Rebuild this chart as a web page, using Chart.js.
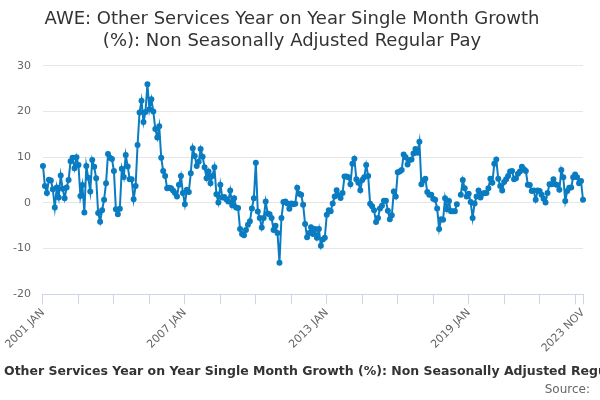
<!DOCTYPE html>
<html>
<head>
<meta charset="utf-8">
<script src="https://cdn.jsdelivr.net/npm/chart.js@4.4.1/dist/chart.umd.min.js"></script>
<style>
  html, body { margin: 0; padding: 0; background: #fff; }
  #wrap { position: relative; width: 600px; height: 400px; }
</style>
</head>
<body>
<div id="wrap"><canvas id="aweChart" width="600" height="400"></canvas></div>
<script>
// monthly series, 2001 JAN .. 2023 NOV
const firstYear = 2001
const monthNames = ['JAN', 'FEB', 'MAR', 'APR', 'MAY', 'JUN', 'JUL', 'AUG', 'SEP', 'OCT', 'NOV', 'DEC']
const growth = [
  8.1, 3.7, 2.2, 5.1, 4.9, 3.0, -1.0, 3.4, 1.2, 6.0, 3.1, 1.0,
  3.4, 5.0, 9.1, 9.9, 7.6, 10.0, 8.3, 1.5, 3.9, -2.1, 8.1, 5.5,
  2.5, 9.4, 7.9, 5.4, -2.2, -4.1, -1.6, 0.7, 4.3, 10.7, 9.9, 9.6,
  7.0, -1.4, -2.5, -1.3, 7.5, 5.7, 10.5, 8.0, 5.2, 5.2, 0.8, 3.7,
  12.7, 19.8, 22.4, 17.7, 19.9, 26.0, 20.5, 22.7, 20.0, 16.2, 14.3, 16.8,
  9.9, 7.0, 5.9, 3.2, 3.3, 3.2, 2.7, 2.2, 1.4, 4.0, 5.9, 2.2,
  -0.3, 2.9, 2.4, 6.5, 12.0, 10.3, 8.1, 9.0, 11.8, 10.1, 7.8, 5.4,
  6.9, 4.3, 5.9, 7.8, 1.9, 0.1, 4.0, 1.2, 1.3, 0.8, 0.3, 2.7,
  -0.5, 1.0, -1.0, -1.1, -5.7, -6.8, -7.1, -5.9, -4.8, -4.0, -1.2, 1.0,
  8.8, -1.9, -3.3, -5.4, -3.3, 0.3, -2.3, -2.5, -3.3, -5.9, -5.0, -6.6,
  -13.1, -3.3, 0.2, 0.3, -0.1, -1.3, -0.1, -0.3, -0.2, 3.3, 2.0, 1.8,
  -0.4, -4.6, -7.5, -6.6, -5.3, -6.8, -5.7, -7.6, -5.7, -9.4, -8.0, -7.6,
  -2.6, -1.6, -1.8, -0.1, 1.4, 2.8, 1.7, 1.1, 2.2, 5.8, 5.8, 5.6,
  4.1, 8.6, 9.7, 5.2, 4.4, 2.8, 5.0, 5.6, 8.3, 5.9, -0.2, -0.7,
  -1.6, -4.2, -3.3, -1.2, -0.6, 0.5, 0.5, -1.7, -3.6, -2.7, 2.5, 1.4,
  6.7, 6.9, 7.2, 10.6, 10.0, 8.4, 9.4, 9.5, 10.8, 11.8, 11.0, 13.4,
  4.1, 4.9, 5.3, 2.4, 1.8, 1.8, 0.9, 0.7, -1.2, -5.7, -3.6, -3.7,
  1.0, -1.4, 0.4, -1.8, -1.8, -1.8, -0.3, null, 1.8, 5.0, 3.2, 1.4,
  2.0, 0.2, -3.3, -0.1, 1.4, 2.7, 1.2, 2.0, 2.2, 2.2, 3.2, 5.3,
  4.4, 8.6, 9.5, 5.3, 3.7, 2.7, 4.6, 5.2, 5.9, 6.9, 7.0, 5.2,
  5.4, 6.4, 6.9, 7.9, 7.4, 7.0, 4.0, 3.9, 2.6, 2.7, 0.7, 2.7,
  2.6, 1.8, 0.9, 0.1, 2.2, 4.1, 4.1, 5.2, 4.1, 3.9, 2.9, 7.2,
  5.6, 0.4, 2.6, 3.3, 3.4, 5.6, 6.2, 5.6, 4.3, 4.8, 0.7
]
const labels = growth.map((v, i) => (firstYear + Math.floor(i / 12)) + ' ' + monthNames[i % 12])

// x axis: a tick mark every 18 months, text only on some of them
const tickEvery = 18
const labelledTicks = [0, 72, 144, 216, 274]
const yMin = -20
const yMax = 30
const yStep = 10

const titleLines = ['AWE: Other Services Year on Year Single Month Growth', '(%): Non Seasonally Adjusted Regular Pay']
const seriesName = 'Other Services Year on Year Single Month Growth (%): Non Seasonally Adjusted Regular Pay'
const sourceText = 'Source:'

const FONT = '"DejaVu Sans", "Noto Sans", sans-serif'

// caption and source line under the chart
const footerText = {
  id: 'footerText',
  afterDraw(chart) {
    const c = chart.ctx
    c.save()
    c.textBaseline = 'middle'
    c.font = 'bold 12.5px ' + FONT
    c.fillStyle = '#333333'
    c.textAlign = 'left'
    c.fillText(seriesName, 4, 372)
    c.font = '12px ' + FONT
    c.fillStyle = '#666666'
    c.textAlign = 'right'
    c.fillText(sourceText, 590, 390)
    c.restore()
  }
}

const ctx = document.getElementById('aweChart').getContext('2d')
const aweChart = new Chart(ctx, {
  type: 'line',
  data: {
    labels: labels,
    datasets: [{
      label: seriesName,
      data: growth,
      borderColor: '#0a7cc1',
      backgroundColor: '#0a7cc1',
      borderWidth: 2,
      pointRadius: 2,
      pointHoverRadius: 3,
      tension: 0,
      spanGaps: false
    }]
  },
  options: {
    responsive: false,
    animation: false,
    layout: { padding: { left: 1, right: 17, top: 0, bottom: 43 } },
    plugins: {
      legend: { display: false },
      tooltip: { enabled: false },
      title: {
        display: true,
        text: titleLines,
        color: '#333333',
        font: { family: FONT, size: 18, weight: 'normal', lineHeight: 1.22 },
        padding: { top: 8, bottom: 14 }
      }
    },
    scales: {
      x: {
        type: 'category',
        offset: false,
        afterBuildTicks: (scale) => {
          scale.ticks = scale.ticks.filter(t => t.value % tickEvery === 0 || t.value === growth.length - 1)
        },
        ticks: {
          autoSkip: false,
          maxRotation: 45,
          minRotation: 45,
          color: '#666666',
          font: { family: FONT, size: 11 },
          padding: 2,
          callback: function (value) {
            return labelledTicks.includes(value) ? this.getLabelForValue(value) : ''
          }
        },
        grid: {
          display: true,
          drawOnChartArea: false,
          drawTicks: true,
          tickLength: 10,
          color: '#ccd6eb'
        },
        border: { display: true, color: '#ccd6eb', width: 1 }
      },
      y: {
        min: yMin,
        max: yMax,
        ticks: {
          stepSize: yStep,
          color: '#666666',
          font: { family: FONT, size: 11 },
          padding: 12
        },
        grid: { color: '#e6e6e6', drawTicks: false },
        border: { display: false }
      }
    }
  },
  plugins: [footerText]
})
</script>
</body>
</html>
